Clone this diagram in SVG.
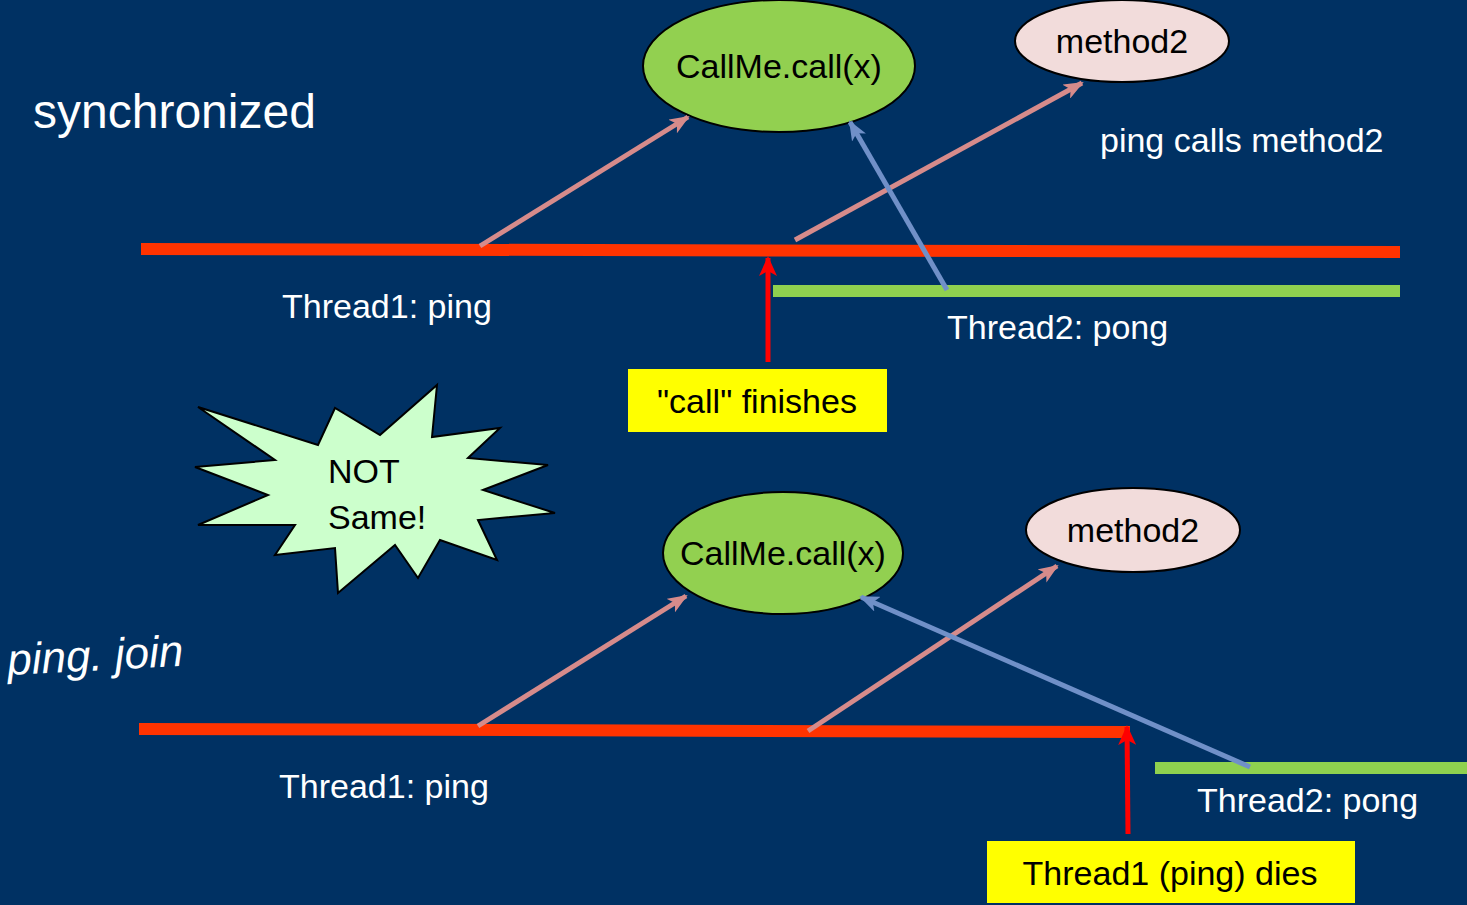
<svg xmlns="http://www.w3.org/2000/svg" width="1467" height="905" viewBox="0 0 1467 905">
<defs>
<style>
text{font-family:"Liberation Sans",Arial,sans-serif;}
.w{fill:#fff;font-size:34px}
.b{fill:#000;font-size:34px}
.pk{stroke:#d68b8b;stroke-width:5;fill:none}
.bl{stroke:#7090c8;stroke-width:5;fill:none}
.rd{stroke:#ff3300;stroke-width:12}
.gr{stroke:#8fd14f;stroke-width:12}
</style>
<marker id="mp" markerWidth="6" markerHeight="6" refX="3" refY="3" orient="auto" markerUnits="userSpaceOnUse" viewBox="0 0 6 6"><path d="M0,0L6,3L0,6z" fill="#d68b8b"/></marker>
<marker id="mpk" markerWidth="20" markerHeight="16" refX="18" refY="8" orient="auto" markerUnits="userSpaceOnUse"><path d="M0,0L20,8L0,16L5,8z" fill="#d68b8b"/></marker>
<marker id="mbl" markerWidth="20" markerHeight="16" refX="18" refY="8" orient="auto" markerUnits="userSpaceOnUse"><path d="M0,0L20,8L0,16L5,8z" fill="#7090c8"/></marker>
<marker id="mrd" markerWidth="20" markerHeight="18" refX="18" refY="9" orient="auto" markerUnits="userSpaceOnUse"><path d="M0,0L20,9L0,18L5,9z" fill="#ff0000"/></marker>
</defs>
<rect width="1467" height="905" fill="#003163"/>
<text x="33" y="128" fill="#fff" font-size="48" font-family="Liberation Sans,Arial,sans-serif">synchronized</text>
<text x="8" y="675" fill="#fff" font-size="44" font-style="italic" font-family="DejaVu Serif,serif" transform="rotate(-3 8 675)">ping. join</text>
<g id="timelines">
<line class="rd" x1="141" y1="249" x2="1400" y2="252"/>
<line class="gr" x1="773" y1="291" x2="1400" y2="291"/>
<line class="rd" x1="139" y1="729" x2="1130" y2="732"/>
<line class="gr" x1="1155" y1="768" x2="1467" y2="768"/>
</g>
<g id="n1"><ellipse cx="779" cy="66" rx="136" ry="66" fill="#92d050" stroke="#000" stroke-width="2"/><text class="b" x="779" y="78" text-anchor="middle">CallMe.call(x)</text></g>
<g id="n2"><ellipse cx="1122" cy="41" rx="107" ry="41" fill="#f2dcdb" stroke="#000" stroke-width="2"/><text class="b" x="1122" y="53" text-anchor="middle">method2</text></g>
<g id="n3"><ellipse cx="783" cy="553" rx="120" ry="61" fill="#92d050" stroke="#000" stroke-width="2"/><text class="b" x="783" y="565" text-anchor="middle">CallMe.call(x)</text></g>
<g id="n4"><ellipse cx="1133" cy="530" rx="107" ry="42" fill="#f2dcdb" stroke="#000" stroke-width="2"/><text class="b" x="1133" y="542" text-anchor="middle">method2</text></g>
<g id="star"><polygon points="198,407 318,445 335,408 380,435 437,385 432,437 500,428 468,458 548,465 483,490 555,513 478,520 497,560 440,540 418,578 395,545 338,593 335,548 275,555 295,525 198,525 268,495 195,467 275,460" fill="#ccffcc" stroke="#000" stroke-width="2"/><text class="b" x="328" y="483">NOT</text><text class="b" x="328" y="529">Same!</text></g>
<g id="labels">
<text class="w" x="282" y="318">Thread1: ping</text>
<text class="w" x="947" y="339">Thread2: pong</text>
<text class="w" x="1100" y="152">ping calls method2</text>
<text class="w" x="279" y="798">Thread1: ping</text>
<text class="w" x="1197" y="812">Thread2: pong</text>
</g>
<g id="box1"><rect x="628" y="369" width="259" height="63" fill="#ffff00"/><text class="b" x="757" y="413" text-anchor="middle">"call" finishes</text></g>
<g id="box2"><rect x="987" y="841" width="368" height="62" fill="#ffff00"/><text class="b" x="1170" y="885" text-anchor="middle">Thread1 (ping) dies</text></g>
<g id="connectors">
<line class="pk" x1="480" y1="246" x2="688" y2="117" marker-end="url(#mpk)"/>
<line class="pk" x1="795" y1="240" x2="1082" y2="83" marker-end="url(#mpk)"/>
<line class="bl" x1="947" y1="290" x2="850" y2="122" marker-end="url(#mbl)"/>
<line stroke="#ff0000" stroke-width="5" x1="768" y1="362" x2="768" y2="258" marker-end="url(#mrd)"/>
<line class="pk" x1="478" y1="726" x2="686" y2="596" marker-end="url(#mpk)"/>
<line class="pk" x1="808" y1="731" x2="1057" y2="566" marker-end="url(#mpk)"/>
<line class="bl" x1="1250" y1="767" x2="861" y2="597" marker-end="url(#mbl)"/>
<line stroke="#ff0000" stroke-width="5" x1="1128" y1="834" x2="1127" y2="727" marker-end="url(#mrd)"/>
</g>
</svg>
